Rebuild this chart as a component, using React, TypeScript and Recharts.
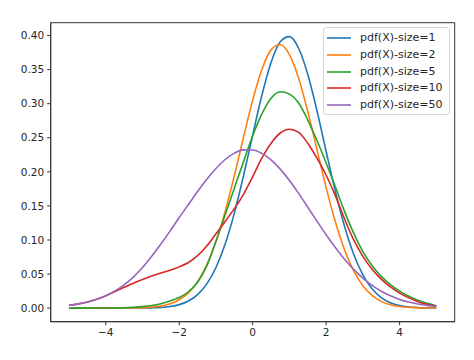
import React from 'react';
import { LineChart, Line, XAxis, YAxis, Legend, ReferenceArea } from 'recharts';

const xValues = [-5, -4.75, -4.5, -4.25, -4, -3.75, -3.5, -3.25, -3, -2.75, -2.5, -2.25, -2, -1.75, -1.5, -1.25, -1, -0.75, -0.5, -0.25, 0, 0.25, 0.5, 0.75, 1, 1.25, 1.5, 1.75, 2, 2.25, 2.5, 2.75, 3, 3.25, 3.5, 3.75, 4, 4.25, 4.5, 4.75, 5];

const size1 = [0, 0, 0, 0, 0, 0, 0, 0.0001, 0.0001, 0.0004, 0.001, 0.0024, 0.0051, 0.0104, 0.0198, 0.0355, 0.0596, 0.094, 0.1394, 0.1942, 0.2541, 0.3123, 0.3605, 0.391, 0.3984, 0.3814, 0.3429, 0.2897, 0.2299, 0.1714, 0.12, 0.079, 0.0488, 0.0283, 0.0154, 0.0079, 0.0038, 0.0017, 0.0007, 0.0003, 0.0001];
const size2 = [0, 0, 0, 0, 0, 0.0001, 0.0001, 0.0003, 0.0006, 0.0014, 0.003, 0.0063, 0.0122, 0.0224, 0.0389, 0.0634, 0.0978, 0.1419, 0.1943, 0.2508, 0.3053, 0.3503, 0.379, 0.3869, 0.372, 0.3374, 0.2885, 0.2326, 0.1769, 0.1267, 0.0857, 0.0546, 0.0328, 0.0186, 0.0099, 0.005, 0.0024, 0.0011, 0.0004, 0.0002, 0.0001];
const size5 = [0, 0, 0, 0.0001, 0.0001, 0.0003, 0.0006, 0.0012, 0.0022, 0.0038, 0.0065, 0.0105, 0.0155, 0.024, 0.038, 0.062, 0.098, 0.137, 0.176, 0.215, 0.253, 0.285, 0.308, 0.3175, 0.314, 0.301, 0.276, 0.246, 0.213, 0.178, 0.142, 0.11, 0.083, 0.0625, 0.0465, 0.0345, 0.025, 0.0175, 0.0115, 0.007, 0.0035];
const size10 = [0.0041, 0.0062, 0.009, 0.013, 0.0182, 0.0245, 0.0305, 0.0365, 0.042, 0.047, 0.0515, 0.0555, 0.0605, 0.067, 0.077, 0.091, 0.109, 0.127, 0.146, 0.167, 0.193, 0.22, 0.242, 0.257, 0.2625, 0.258, 0.242, 0.22, 0.195, 0.165, 0.131, 0.1, 0.076, 0.057, 0.0425, 0.031, 0.022, 0.015, 0.0095, 0.0055, 0.003];
const size50 = [0.0041, 0.0062, 0.009, 0.013, 0.0182, 0.0252, 0.0342, 0.0455, 0.0595, 0.076, 0.094, 0.113, 0.133, 0.152, 0.171, 0.189, 0.205, 0.2181, 0.2274, 0.2322, 0.2321, 0.2271, 0.2176, 0.204, 0.1873, 0.1684, 0.1481, 0.1276, 0.1076, 0.0888, 0.0717, 0.0568, 0.044, 0.0333, 0.0247, 0.018, 0.0128, 0.0089, 0.0061, 0.004, 0.0026];

const seriesNames = ['pdf(X)-size=1', 'pdf(X)-size=2', 'pdf(X)-size=5', 'pdf(X)-size=10', 'pdf(X)-size=50'];
const seriesKeys = ['s1', 's2', 's5', 's10', 's50'];
const seriesColors = ['#1f77b4', '#ff7f0e', '#2ca02c', '#d62728', '#9467bd'];
const seriesValues = [size1, size2, size5, size10, size50];

const xTicks = [-4, -2, 0, 2, 4];
const yTicks = [0, 0.05, 0.1, 0.15, 0.2, 0.25, 0.3, 0.35, 0.4];
const xDomain: [number, number] = [-5.5, 5.5];
const yDomain: [number, number] = [-0.01995, 0.41888];

const data = xValues.map((x, i) => {
  const row: any = { x };
  seriesKeys.forEach((k, j) => {
    row[k] = seriesValues[j][i];
  });
  return row;
});

const FONT = '"DejaVu Sans", sans-serif';
const AXIS = '#333';
const TEXT = '#262626';

const fmtX = (v: number) => (v < 0 ? '\u2212' + Math.abs(v) : String(v));
const fmtY = (v: number) => v.toFixed(2);

const LegendBox = () => (
  <div
    style={{
      position: 'relative',
      width: 127,
      height: 88,
      border: '1px solid #d6d6d6',
      borderRadius: 3,
      background: 'rgba(255,255,255,0.8)',
      boxSizing: 'border-box',
      fontFamily: FONT,
      fontSize: 11,
      color: TEXT,
    }}
  >
    {seriesNames.map((name, i) => (
      <div
        key={name}
        style={{
          position: 'absolute',
          left: 0,
          top: 10 + i * 16.75 - 8,
          height: 16,
          display: 'flex',
          alignItems: 'center',
          whiteSpace: 'nowrap',
        }}
      >
        <svg width={36} height={16} style={{ display: 'block' }}>
          <line x1={3} y1={8} x2={27} y2={8} stroke={seriesColors[i]} strokeWidth={1.6} />
        </svg>
        <span style={{ lineHeight: '16px' }}>{name}</span>
      </div>
    ))}
  </div>
);

export default function App() {
  return (
    <div style={{ position: 'absolute', left: 0, top: 0, width: 474, height: 360, background: '#fff' }}>
      <LineChart
        width={474}
        height={360}
        data={data}
        margin={{ top: 22.7, right: 19.3, bottom: 0, left: 0 }}
      >
        <XAxis
          dataKey="x"
          type="number"
          domain={xDomain}
          ticks={xTicks}
          tickFormatter={fmtX}
          allowDataOverflow
          height={38.3}
          tickSize={3.5}
          tickMargin={3.5}
          stroke={AXIS}
          axisLine={{ stroke: AXIS, strokeWidth: 1 }}
          tickLine={{ stroke: AXIS, strokeWidth: 1 }}
          tick={{ fill: TEXT, fontSize: 10.5, fontFamily: FONT }}
        />
        <YAxis
          type="number"
          domain={yDomain}
          ticks={yTicks}
          tickFormatter={fmtY}
          allowDataOverflow
          width={50.7}
          tickSize={3.5}
          tickMargin={3}
          axisLine={{ stroke: AXIS, strokeWidth: 1 }}
          tickLine={{ stroke: AXIS, strokeWidth: 1 }}
          tick={{ fill: TEXT, fontSize: 10.5, fontFamily: FONT }}
        />
        <ReferenceArea
          x1={xDomain[0]}
          x2={xDomain[1]}
          y1={yDomain[0]}
          y2={yDomain[1]}
          fill="none"
          fillOpacity={0}
          stroke={AXIS}
          strokeWidth={1}
          ifOverflow="visible"
        />
        {seriesKeys.map((k, i) => (
          <Line
            key={k}
            dataKey={k}
            name={seriesNames[i]}
            type="monotone"
            stroke={seriesColors[i]}
            strokeWidth={1.6}
            dot={false}
            activeDot={false}
            isAnimationActive={false}
          />
        ))}
        <Legend
          layout="vertical"
          align="center"
          verticalAlign="middle"
          content={() => <LegendBox />}
          wrapperStyle={{ left: 323, top: 27, width: 127, height: 88 }}
        />
      </LineChart>
    </div>
  );
}
